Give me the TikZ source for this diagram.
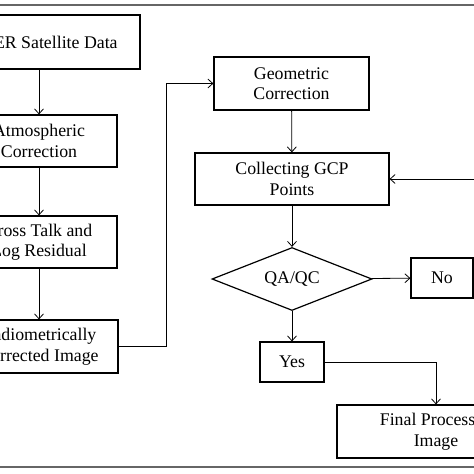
\documentclass[tikz,border=0pt]{standalone}
\usepackage{fontspec}
\setmainfont{Liberation Serif}
\usetikzlibrary{shapes.geometric,arrows.meta}

\tikzset{
  blk/.style={draw,line width=1.2pt,inner sep=0pt,align=center,
    font=\fontsize{17.8}{20.5}\selectfont},
  dec/.style={blk,diamond,aspect=2.5,minimum width=160pt,minimum height=63pt},
  link/.style={line width=0.8pt,-{Straight Barb[length=5pt,width=9pt]}},
  frame/.style={draw=black!60,line width=1.2pt}
}

\begin{document}
\begin{tikzpicture}[x=1pt,y=-1pt]
\clip (0,0) rectangle (474,474);
% frame
\draw[frame] (0,5) -- (474,5);
\draw[frame] (0,467) -- (474,467);
% left column
\node[blk,minimum width=202pt,minimum height=54pt] (sat) at (39,42) {\phantom{AST}ER Satellite Data};
\node[blk,minimum width=156pt,minimum height=52pt] (atm) at (39,141) {Atmospheric\\Correction};
\node[blk,minimum width=156pt,minimum height=52pt] (ctk) at (39,242) {\phantom{C}ross Talk and\\Log Residual};
\node[blk,minimum width=158pt,minimum height=53pt] (rad) at (39,346.5) {\phantom{R}adiometrically\\\phantom{C}orrected Image};
% right column
\node[blk,minimum width=155pt,minimum height=53pt] (geo) at (291.5,83.5) {Geometric\\Correction};
\node[blk,minimum width=194pt,minimum height=52pt] (gcp) at (292,179) {Collecting GCP\\Points};
\node[dec] (qa) at (292,279) {QA/QC};
\node[blk,minimum width=62pt,minimum height=40pt] (no) at (442,278) {No};
\node[blk,minimum width=64pt,minimum height=40pt] (yes) at (292,362) {Yes};
\node[blk,minimum width=198pt,minimum height=53pt] (fin) at (436,431.5) {Final Process\phantom{ed}\\Image};
% links
\draw[link] (sat) -- (atm);
\draw[link] (atm) -- (ctk);
\draw[link] (ctk) -- (rad);
\draw[link] (rad.east) -- ++(48,0) |- (geo.west);
\draw[link] (geo) -- (gcp);
\draw[link] (gcp) -- (qa);
\draw[link] (qa) -- (no);
\draw[link] (qa) -- (yes);
\draw[link] (yes.east) -| (fin.north);
\draw[link] (no.east) -- ++(20,0) |- (gcp.east);
\end{tikzpicture}
\end{document}
